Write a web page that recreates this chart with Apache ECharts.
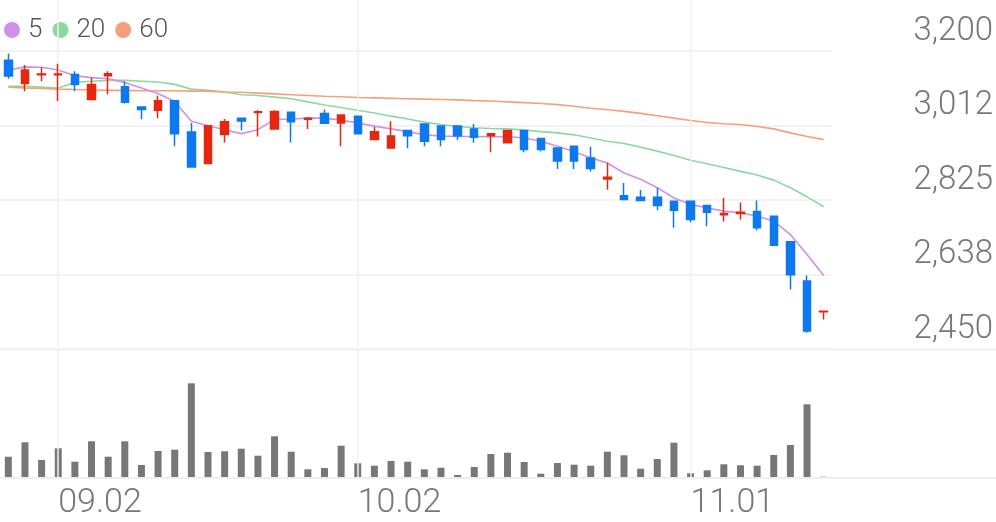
<!DOCTYPE html>
<html>
<head>
<meta charset="utf-8">
<script src="https://cdn.jsdelivr.net/npm/echarts@6/dist/echarts.min.js"></script>
<style>
  html, body { margin: 0; padding: 0; background: #fff; }
  #chart { width: 996px; height: 522px; }
</style>
</head>
<body>
<div id="chart"></div>
<script>
// 거래일 (MM.DD)
const dates = [
  '08.28', '08.29', '08.30', '09.02', '09.03', '09.04', '09.05', '09.06', '09.09', '09.10',
  '09.11', '09.12', '09.13', '09.19', '09.20', '09.23', '09.24', '09.25', '09.26', '09.27',
  '09.30', '10.02', '10.04', '10.07', '10.08', '10.10', '10.11', '10.14', '10.15', '10.16',
  '10.17', '10.18', '10.21', '10.22', '10.23', '10.24', '10.25', '10.28', '10.29', '10.30',
  '10.31', '11.01', '11.04', '11.05', '11.06', '11.07', '11.08', '11.11', '11.12', '11.13'
]
// 시가, 종가, 저가, 고가
const opens = [
  3177, 3118, 3140, 3140, 3141, 3078, 3138, 3110, 3059, 3051,
  3075, 2996, 2917, 2990, 3031, 3045, 3004, 3046, 3028, 3043,
  3019, 3036, 2977, 2956, 3000, 3016, 3011, 3011, 3004, 2987,
  2969, 3000, 2980, 2956, 2960, 2931, 2878, 2836, 2832, 2832,
  2822, 2822, 2811, 2788, 2791, 2796, 2784, 2720, 2621, 2544
]
const closes = [
  3137, 3152, 3142, 3142, 3116, 3116, 3143, 3071, 3053, 3075,
  2992, 2908, 3012, 3022, 3024, 3047, 3048, 3022, 3031, 3018,
  3039, 2992, 2997, 2986, 2987, 2973, 2977, 2987, 2983, 2992,
  3000, 2952, 2952, 2923, 2923, 2904, 2882, 2826, 2824, 2811,
  2799, 2776, 2794, 2791, 2794, 2755, 2711, 2637, 2495, 2545
]
const lows = [
  3130, 3099, 3124, 3074, 3099, 3076, 3091, 3068, 3028, 3031,
  2960, 2906, 2915, 2970, 3000, 2985, 3002, 2970, 3004, 3017,
  2960, 2990, 2976, 2955, 2955, 2960, 2960, 2976, 2969, 2945,
  2968, 2945, 2948, 2903, 2903, 2897, 2851, 2825, 2823, 2799,
  2755, 2769, 2759, 2771, 2776, 2749, 2709, 2600, 2491, 2524
]
const highs = [
  3194, 3165, 3159, 3168, 3149, 3133, 3149, 3123, 3059, 3088,
  3076, 3019, 3013, 3029, 3031, 3051, 3051, 3046, 3034, 3053,
  3040, 3037, 3009, 3023, 3000, 3016, 3011, 3011, 3016, 2993,
  3001, 3001, 2980, 2957, 2961, 2959, 2919, 2868, 2850, 2856,
  2823, 2823, 2812, 2830, 2819, 2824, 2786, 2721, 2635, 2545
]
// 이동평균선
const ma5 = [
  3152, 3160, 3159, 3152, 3138, 3133, 3130, 3121, 3107, 3093,
  3073, 3023, 3012, 3002, 2992, 3002, 3028, 3029, 3031, 3031,
  3026, 3019, 3011, 3004, 2997, 2989, 2986, 2985, 2985, 2984,
  2985, 2981, 2973, 2960, 2947, 2931, 2918, 2893, 2877, 2856,
  2830, 2814, 2805, 2797, 2793, 2784, 2772, 2738, 2688, 2635
]
const ma20 = [
  3111, 3111, 3109, 3107, 3121, 3124, 3126, 3126, 3124, 3122,
  3116, 3104, 3101, 3097, 3090, 3088, 3084, 3080, 3072, 3064,
  3058, 3051, 3044, 3036, 3029, 3021, 3015, 3010, 3007, 3005,
  3004, 3001, 2997, 2994, 2989, 2981, 2973, 2967, 2958, 2948,
  2937, 2925, 2916, 2907, 2897, 2888, 2875, 2856, 2833, 2808
]
const ma60 = [
  3109, 3107, 3106, 3104, 3103, 3102, 3101, 3101, 3100, 3100,
  3100, 3099, 3099, 3097, 3096, 3094, 3092, 3090, 3088, 3086,
  3085, 3083, 3082, 3081, 3080, 3079, 3078, 3077, 3075, 3074,
  3072, 3070, 3068, 3065, 3061, 3056, 3052, 3048, 3043, 3037,
  3031, 3025, 3020, 3017, 3015, 3010, 3004, 2994, 2985, 2977
]
// 거래량
const volumes = [
  203, 347, 170, 287, 153, 357, 203, 357, 120, 260,
  273, 937, 250, 257, 283, 213, 407, 253, 77, 90,
  313, 137, 113, 160, 153, 77, 93, 20, 100, 230,
  243, 150, 33, 140, 123, 113, 253, 217, 83, 180,
  343, 37, 67, 127, 117, 113, 220, 320, 727, 3
]
// 축 라벨
const xTickLabels = ['09.02', '10.02', '11.01']
const yTickLabels = ['2,450', '2,638', '2,825', '3,012', '3,200']
const priceMin = 2450
const priceMax = 3200

const candles = dates.map((d, i) => [opens[i], closes[i], lows[i], highs[i]])

const chart = echarts.init(document.getElementById('chart'))
const labelFont = { fontFamily: 'Roboto', fontWeight: 300, color: '#777' }

chart.setOption({
  animation: false,
  color: ['#cf90e8', '#8bd9a0', '#f6a07a'],
  legend: {
    left: -1,
    top: 12,
    icon: 'circle',
    itemWidth: 16,
    itemHeight: 16,
    itemGap: 10,
    data: ['5', '20', '60'],
    textStyle: { fontFamily: 'Roboto', fontWeight: 300, fontSize: 26, lineHeight: 26, color: '#555', padding: [0, 0, 0, 3] }
  },
  grid: [
    { left: -1, right: 164, top: 51, height: 298 },
    { left: -1, right: 164, top: 0, bottom: 45 }
  ],
  xAxis: [
    {
      type: 'category', gridIndex: 0, data: dates,
      axisLine: { show: false }, axisTick: { show: false }, axisLabel: { show: false }, splitLine: { show: false }
    },
    {
      type: 'category', gridIndex: 1, data: dates,
      axisLine: { show: false }, axisTick: { show: false }, splitLine: { show: false },
      axisLabel: {
        ...labelFont, fontSize: 34, align: 'left', margin: 9,
        interval: (idx, val) => xTickLabels.includes(val)
      }
    }
  ],
  yAxis: [
    { type: 'value', gridIndex: 0, min: priceMin, max: priceMax, show: false },
    {
      type: 'value', gridIndex: 0, position: 'right', min: 0, max: 4, interval: 1,
      axisLine: { show: false }, axisTick: { show: false },
      splitLine: { lineStyle: { color: '#f2f2f2', width: 2 } },
      axisLabel: {
        ...labelFont, fontSize: 33, lineHeight: 33, align: 'right', verticalAlign: 'bottom',
        margin: 161, padding: [0, 0, 3, 0],
        formatter: v => yTickLabels[v]
      }
    },
    { type: 'value', gridIndex: 1, min: 0, max: 4770, show: false }
  ],
  graphic: [
    { type: 'line', shape: { x1: 0, y1: 349.5, x2: 996, y2: 349.5 }, style: { stroke: '#eeeeee', lineWidth: 2 }, z: 0 },
    { type: 'line', shape: { x1: 0, y1: 478, x2: 996, y2: 478 }, style: { stroke: '#eeeeee', lineWidth: 2 }, z: 0 }
  ],
  series: [
    {
      name: 'price', type: 'candlestick', xAxisIndex: 0, yAxisIndex: 0, data: candles,
      barWidth: 8, z: 5,
      itemStyle: {
        color: '#e4280f', color0: '#0e78ee',
        borderColor: '#e4280f', borderColor0: '#0e78ee', borderWidth: 1.5
      }
    },
    { name: '5', type: 'line', xAxisIndex: 0, yAxisIndex: 0, data: ma5, showSymbol: false, lineStyle: { width: 1.6 }, z: 4 },
    { name: '20', type: 'line', xAxisIndex: 0, yAxisIndex: 0, data: ma20, showSymbol: false, lineStyle: { width: 1.6 }, z: 3 },
    { name: '60', type: 'line', xAxisIndex: 0, yAxisIndex: 0, data: ma60, showSymbol: false, lineStyle: { width: 1.6 }, z: 3 },
    {
      name: 'volume', type: 'bar', xAxisIndex: 1, yAxisIndex: 2, data: volumes,
      barWidth: 7, itemStyle: { color: '#777' }, z: 2,
      markLine: {
        silent: true, symbol: 'none', label: { show: false },
        lineStyle: { color: '#f0f0f0', width: 1.5, type: 'solid' },
        data: xTickLabels.map(d => ({ xAxis: d }))
      }
    }
  ]
})
</script>
</body>
</html>
